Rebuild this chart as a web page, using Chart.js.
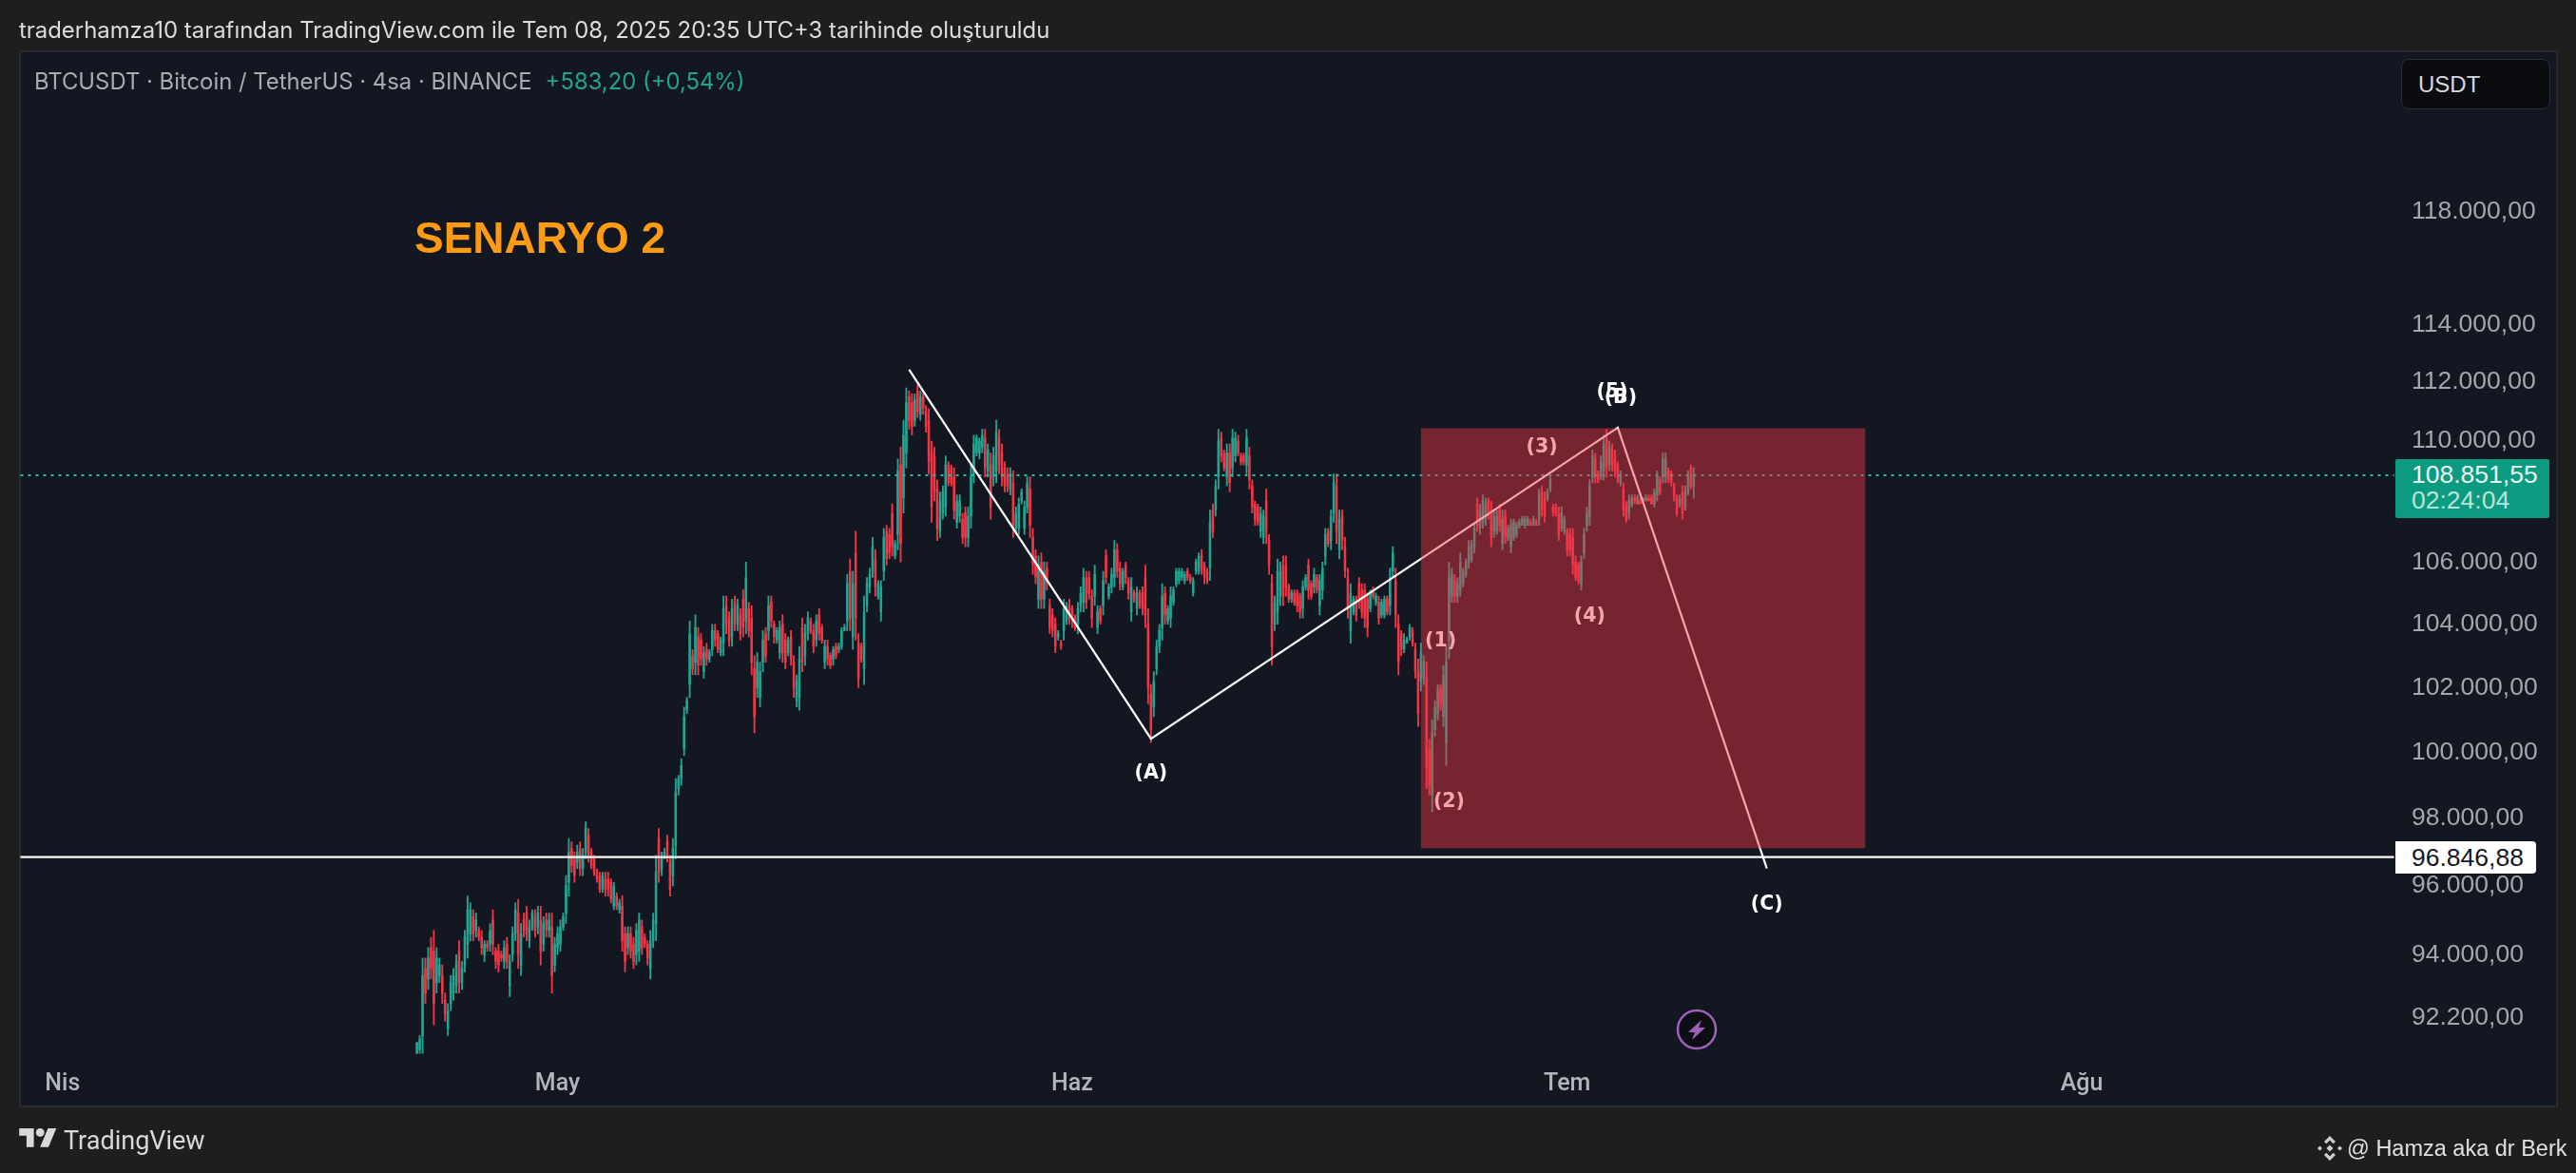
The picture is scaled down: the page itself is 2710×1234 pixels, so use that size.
<!DOCTYPE html>
<html lang="tr">
<head>
<meta charset="utf-8">
<title>BTCUSDT</title>
<script src="https://cdn.jsdelivr.net/npm/chart.js@4/dist/chart.umd.min.js"></script>
<style>
  html, body { margin: 0; padding: 0; background: #1e1e1e; width: 2710px; height: 1234px; overflow: hidden; }
  #panel { position: absolute; left: 20px; top: 53px; width: 2667px; height: 1108px; background: #131722; border: 2px solid #2a2b2e; border-radius: 2px; }
  #chart { position: absolute; left: 0; top: 0; }
  .t { position: absolute; white-space: nowrap; }
  #created { left: 20px; top: 16px; font: 400 23.9px/32px Inter, sans-serif; color: #dcdcdc; }
  #legend { left: 36px; top: 70px; font: 400 23.85px/32px Inter, sans-serif; color: #a8abb4; }
  #legend span { color: #22a58e; margin-left: 14px; }
  #title { left: 436px; top: 220px; font: 700 46px/60px "Liberation Sans", sans-serif; color: #ff9a14; }
  #usdt { left: 2526px; top: 62px; width: 155px; height: 51px; background: #0b0c0f; border: 1px solid #2a2e39; border-radius: 8px; }
  #usdt div { margin-left: 17px; font: 400 24px/51px "Liberation Sans", sans-serif; color: #d6d8de; }
  #last { left: 2520px; top: 483px; width: 162px; height: 62px; background: #0c9a80; border-radius: 2px; }
  #last div { position: absolute; left: 17px; font: 400 26.5px/26px "Liberation Sans", sans-serif; }
  #target { left: 2520px; top: 885px; width: 148px; height: 34px; background: #fff; border-radius: 0 4px 4px 0; font: 400 26.5px/34px "Liberation Sans", sans-serif; color: #131722; text-indent: 17px; }
  #brand { left: 67px; top: 1183px; font: 400 27px/34px Roboto, sans-serif; color: #d8d9dc; }
  #author { left: 2469px; top: 1191px; font: 400 23.5px/34px "Liberation Sans", sans-serif; color: #e0e0e0; }
  svg { position: absolute; }
</style>
</head>
<body>
<div id="panel"></div>
<canvas id="chart" width="2710" height="1234"></canvas>

<div class="t" id="created">traderhamza10 tarafından TradingView.com ile Tem 08, 2025 20:35 UTC+3 tarihinde oluşturuldu</div>
<div class="t" id="legend">BTCUSDT · Bitcoin / TetherUS · 4sa · BINANCE<span>+583,20 (+0,54%)</span></div>
<div class="t" id="title">SENARYO 2</div>
<div class="t" id="usdt"><div>USDT</div></div>
<div class="t" id="last"><div style="top:3px;color:#eafaf6">108.851,55</div><div style="top:30px;color:#b5e6da">02:24:04</div></div>
<div class="t" id="target">96.846,88</div>
<div class="t" id="brand">TradingView</div>
<div class="t" id="author">@ Hamza aka dr Berk</div>

<svg style="left:20px;top:1187px" width="40" height="22" viewBox="0 4 36 20"><path fill="#d8d9dc" d="M14 22H7V11H0V4h14v18zM28 22h-8l7.5-18h8L28 22z"/><circle fill="#d8d9dc" cx="20" cy="8" r="4"/></svg>
<svg style="left:2437px;top:1194px" width="28" height="28" viewBox="0 0 28 28"><path fill="#d0d0d0" d="M14 1l6 6-2.300 2.300L14 5.600 10.300 9.300 8 7zM14 27l-6-6 2.300-2.300L14 22.400l3.700-3.700L20 21zM3.500 11.500l2.500 2.500-2.500 2.500L1 14zM24.500 11.500L27 14l-2.500 2.500L22 14zM14 10.500l3.500 3.500-3.500 3.500-3.500-3.500z"/></svg>
<svg style="left:1762px;top:1060px" width="46" height="46" viewBox="0 0 46 46"><circle cx="23" cy="23" r="20" fill="#0d0e13" stroke="#a25fb8" stroke-width="2.500"/><path fill="#a25fb8" d="M28 13L14 26h7l-3 8 14-13h-7z"/></svg>

<script>
// price in thousands USDT, one 4h candle per column
const highs = [
  91.5,91.7,93.9,93.9,94.2,94.5,94.7,94.2,93.9,93.7,
  92.9,92.6,93.4,93.6,94.0,94.4,93.8,94.7,95.7,95.5,
  95.3,95.2,94.8,94.7,94.4,94.4,94.9,95.3,94.2,94.3,
  94.1,94.4,94.5,94.0,94.8,95.5,95.6,94.9,95.2,95.4,
  95.0,95.3,95.3,95.4,95.4,95.1,95.2,95.2,95.2,94.5,
  94.8,95.0,95.2,96.3,97.4,97.3,97.0,97.2,97.3,97.1,
  97.9,97.7,97.1,96.9,96.5,96.4,96.4,96.4,96.4,96.2,
  96.1,95.8,95.6,95.7,94.8,94.8,94.8,94.5,94.9,95.2,
  95.0,94.6,94.4,94.7,95.2,96.9,97.7,97.0,97.1,97.5,
  96.9,97.4,99.2,99.3,99.8,101.4,101.7,104.1,103.2,104.3,
  103.9,103.7,103.3,103.4,103.2,104.0,104.0,103.8,103.6,104.9,
  104.9,104.4,104.8,104.9,104.8,104.5,105.1,106.0,104.7,104.6,
  103.0,103.1,102.8,103.8,103.9,104.9,104.9,104.1,103.9,104.1,
  104.3,103.7,103.6,103.8,103.0,102.4,103.3,104.2,104.0,104.4,
  104.2,104.0,104.3,104.5,104.0,103.5,103.5,103.1,103.3,103.4,
  103.4,103.9,104.0,105.6,106.1,105.7,107.0,103.7,103.4,104.9,
  105.5,105.8,106.8,106.4,105.4,105.4,107.1,107.2,107.1,107.9,
  106.7,109.4,109.8,110.7,111.8,111.7,111.6,111.6,111.9,111.7,
  111.7,111.2,111.1,110.0,109.8,108.7,108.3,108.5,109.5,109.3,
  109.2,109.1,108.2,108.2,107.6,107.8,107.8,109.2,110.2,110.2,
  110.1,110.4,110.4,109.9,109.6,109.8,110.7,110.4,109.9,109.3,
  109.1,109.1,109.0,107.8,108.1,108.4,108.0,108.8,108.8,107.1,
  106.4,106.2,106.3,106.0,106.0,104.8,104.5,104.2,103.8,103.5,
  104.8,104.7,104.8,104.6,104.3,104.7,105.2,105.8,105.7,105.7,
  105.1,105.9,104.6,104.6,105.7,106.4,105.3,105.8,106.7,106.6,
  106.0,105.8,106.0,105.5,105.5,105.1,105.2,105.1,105.2,105.9,
  104.5,102.1,102.5,103.5,104.0,105.3,105.2,104.6,105.2,105.2,
  105.8,105.8,105.8,105.7,105.8,105.6,105.5,106.1,106.3,106.4,
  106.0,105.8,107.7,107.9,108.7,110.4,110.3,109.7,109.9,109.9,
  110.4,110.3,110.2,109.6,109.6,110.4,109.8,108.7,108.0,107.9,
  107.8,107.7,108.4,106.9,105.6,104.9,106.1,106.0,106.2,106.2,
  105.3,105.1,105.1,105.1,105.0,105.4,105.6,106.1,105.4,105.8,
  105.6,105.6,106.0,107.1,107.1,107.7,108.9,108.9,107.7,107.7,
  106.8,105.8,105.3,104.9,104.9,105.5,105.3,105.3,105.0,105.1,
  105.2,105.0,104.9,104.8,104.9,104.9,105.8,106.5,105.8,104.3,
  103.8,103.7,103.6,104.0,103.9,103.4,102.9,103.4,103.0,102.8,
  100.4,101.0,101.6,102.1,102.1,102.7,103.3,106.0,105.8,105.6,
  105.5,106.3,105.8,106.1,106.7,106.7,107.3,108.1,107.9,108.2,
  108.1,108.1,108.0,107.7,107.7,107.9,107.7,107.7,107.2,107.4,
  107.4,107.3,107.4,107.5,107.5,107.5,107.4,107.5,107.4,108.4,
  108.5,108.3,108.4,108.8,107.9,107.9,107.8,107.8,107.5,107.1,
  107.1,107.1,106.2,106.0,106.2,107.1,107.8,108.7,109.7,109.6,
  109.0,109.5,110.2,110.4,110.0,109.9,109.7,109.3,109.0,108.6,
  108.0,108.2,108.2,108.2,108.2,108.1,108.1,108.2,108.2,108.2,
  108.4,109.0,108.8,109.6,109.6,109.1,109.0,108.6,108.2,108.2,
  108.5,108.5,109.0,109.2,109.1];
const lows = [
  91.2,91.2,91.2,92.6,93.0,93.3,92.0,92.9,93.2,92.6,
  92.1,91.7,92.4,92.7,92.9,92.9,93.0,93.5,93.9,94.4,
  94.4,94.5,94.4,94.0,93.8,94.1,94.1,94.0,93.6,93.5,
  93.8,93.6,93.6,92.8,93.8,94.4,93.6,93.4,94.5,94.4,
  94.2,94.7,94.5,94.6,93.7,94.1,94.5,94.5,92.9,93.5,
  94.0,94.1,94.7,94.9,95.7,96.4,96.1,96.5,96.3,96.3,
  96.8,96.7,96.5,96.3,96.1,95.8,95.8,95.7,95.7,95.5,
  95.3,95.3,95.2,94.1,93.5,94.0,93.9,93.6,93.7,93.8,
  94.0,94.2,93.7,93.3,94.2,94.4,96.1,96.3,96.8,96.7,
  95.7,96.0,96.8,98.7,99.0,99.9,101.2,101.7,102.4,102.4,
  102.4,102.7,102.3,102.7,102.8,103.0,103.3,103.1,103.0,103.0,
  103.7,103.3,103.3,103.8,103.8,103.5,103.6,103.7,103.6,102.4,
  100.6,101.7,101.4,102.5,102.8,103.5,103.9,103.4,103.4,102.9,
  102.8,102.6,103.0,102.7,101.7,101.4,101.3,102.5,102.7,103.5,
  103.7,103.1,103.3,103.5,103.4,102.6,102.7,102.6,102.7,102.9,
  103.1,103.2,103.8,103.8,103.8,103.2,103.5,102.0,102.8,102.1,
  104.4,105.0,105.5,104.9,104.8,104.1,105.4,105.9,106.1,106.2,
  106.1,106.4,106.0,107.6,109.1,110.4,110.2,110.5,110.8,110.7,
  110.9,110.3,108.9,107.3,108.0,106.7,106.8,107.4,107.5,108.5,
  108.5,107.4,107.1,107.3,106.6,106.5,106.5,107.1,108.6,109.5,
  109.4,109.6,108.8,108.8,107.4,108.5,108.6,108.9,108.5,108.3,
  108.3,108.2,106.8,106.9,106.9,107.9,106.9,107.6,106.8,105.6,
  105.3,104.5,104.5,104.5,105.1,103.7,103.6,103.1,103.5,103.2,
  103.5,104.0,104.0,103.9,103.8,103.7,104.4,104.4,104.5,104.8,
  103.9,104.6,103.7,104.0,104.3,105.3,104.8,105.0,105.2,105.5,
  105.1,105.1,105.3,104.8,104.1,104.7,104.3,104.5,104.3,103.9,
  101.5,100.3,101.1,102.4,103.1,103.5,104.0,104.0,103.9,104.6,
  105.2,105.3,105.4,105.3,105.4,105.3,104.9,105.6,105.6,105.6,
  105.3,105.3,105.4,106.8,107.5,108.4,109.3,109.0,108.5,108.3,
  108.8,109.3,109.5,109.2,109.2,108.9,108.4,107.6,107.2,107.2,
  106.8,106.6,106.6,105.6,102.7,103.8,104.0,104.6,104.6,104.9,
  104.7,104.7,104.6,104.4,104.2,104.2,105.1,104.8,104.8,105.0,
  105.0,104.3,104.8,105.9,106.5,106.4,107.3,106.6,106.1,106.4,
  105.5,104.2,103.4,104.3,104.1,104.5,104.2,103.9,103.6,104.4,
  104.8,104.6,104.0,104.2,104.2,104.3,104.3,105.5,103.9,102.4,
  103.0,103.1,103.4,103.5,103.3,102.3,100.8,101.9,102.1,98.9,
  98.7,98.2,100.5,101.0,101.3,100.8,99.6,102.9,104.7,104.7,
  104.7,104.9,105.2,105.5,105.8,106.0,106.3,107.0,106.9,107.1,
  107.2,107.4,106.5,106.8,106.9,107.0,106.4,106.6,106.7,106.3,
  106.7,106.8,107.1,107.2,107.1,107.2,107.2,107.2,107.2,107.2,
  107.5,107.3,108.0,108.3,107.5,107.5,106.7,107.0,106.9,106.2,
  106.2,105.6,105.4,105.3,105.1,106.1,107.0,107.2,108.6,108.6,
  108.6,108.7,108.7,108.8,109.0,109.0,108.8,108.6,108.5,107.5,
  107.3,107.4,107.8,107.9,107.9,107.9,108.0,108.0,108.0,107.9,
  107.8,108.0,108.2,108.6,108.6,108.6,108.5,108.0,107.5,107.8,
  107.4,107.7,108.2,108.4,108.1];
const opens = [
  91.2,91.3,91.7,93.6,93.3,94.2,94.1,93.2,93.4,93.4,
  92.7,91.9,92.6,92.9,93.1,94.1,93.2,93.7,94.3,94.6,
  95.1,94.7,94.7,94.5,94.0,94.3,94.3,95.0,94.1,94.1,
  94.0,93.8,94.3,93.1,94.0,94.6,95.2,93.7,95.0,95.2,
  94.4,94.8,95.1,94.8,95.0,94.3,95.0,94.7,94.8,93.7,
  94.2,94.3,94.8,95.2,96.1,97.1,96.8,96.7,97.1,96.5,
  97.0,97.5,97.0,96.8,96.4,96.3,95.9,96.2,96.2,96.1,
  95.4,95.7,95.3,95.4,94.6,94.2,94.6,94.3,94.0,94.1,
  94.8,94.5,94.3,93.6,94.4,94.9,97.4,96.5,96.9,97.3,
  96.7,96.3,97.2,98.9,99.2,100.1,101.3,102.1,103.0,102.8,
  103.6,103.5,102.5,103.2,102.9,103.2,103.8,103.7,103.1,103.4,
  104.6,104.2,103.6,104.7,104.0,104.3,104.8,104.1,104.5,104.2,
  102.6,102.0,101.7,102.8,103.7,103.8,104.7,104.0,103.5,103.1,
  104.0,103.5,103.1,103.6,102.8,101.6,101.7,103.9,103.0,103.7,
  104.1,103.8,103.5,104.3,103.9,102.8,103.3,103.0,102.9,103.3,
  103.2,103.3,103.8,104.1,105.7,103.6,106.3,103.4,103.3,102.6,
  104.6,105.2,105.7,106.1,104.9,104.4,105.7,107.0,106.9,107.6,
  106.2,106.9,109.2,108.1,109.6,111.5,111.3,110.7,111.7,110.9,
  111.5,111.0,110.7,109.6,109.5,108.4,107.0,107.6,107.8,109.2,
  109.1,108.8,107.3,107.5,107.4,107.6,106.8,107.5,108.9,109.6,
  109.6,109.8,110.1,109.0,109.2,108.8,109.0,110.1,109.6,109.1,
  108.9,108.4,108.6,107.1,107.1,108.0,107.1,107.8,108.4,106.8,
  106.2,104.8,106.0,104.8,105.8,104.6,104.3,104.0,103.6,103.4,
  103.8,104.1,104.6,104.5,104.2,103.9,104.6,104.7,105.5,105.5,
  104.9,104.9,103.9,104.5,104.6,106.2,104.9,105.2,105.5,106.4,
  105.8,105.2,105.9,105.4,104.4,105.0,104.5,105.0,105.0,105.5,
  104.0,101.8,101.4,102.6,103.3,103.9,105.0,104.1,104.2,104.7,
  105.3,105.4,105.5,105.4,105.7,105.5,105.0,105.7,105.7,106.2,
  105.9,105.7,105.8,107.7,107.7,108.8,110.1,109.6,108.8,109.6,
  109.1,109.5,110.0,109.5,109.5,109.2,109.5,108.5,107.9,107.8,
  107.0,106.8,108.0,106.7,105.3,104.0,104.4,104.9,105.9,105.9,
  105.2,104.8,105.0,105.0,104.9,104.5,105.2,105.9,105.3,105.2,
  105.5,104.6,105.1,106.2,107.0,106.7,107.6,108.5,106.4,107.5,
  106.5,105.5,103.8,104.4,104.8,105.3,105.1,105.1,104.8,104.5,
  105.1,104.7,104.7,104.3,104.3,104.8,104.6,105.7,105.4,104.0,
  103.7,103.2,103.4,103.6,103.8,103.2,102.5,102.2,102.3,102.3,
  100.1,98.7,100.7,101.2,102.0,101.1,100.3,103.5,104.9,105.4,
  104.9,105.1,105.3,105.6,106.0,106.1,106.5,107.9,107.1,107.3,
  107.4,108.0,107.7,107.0,107.0,107.7,106.6,107.5,106.8,106.5,
  106.8,106.9,107.2,107.2,107.2,107.2,107.3,107.2,107.3,107.4,
  108.3,108.1,108.1,108.4,107.8,107.8,107.6,107.1,107.0,107.0,
  106.9,106.8,106.0,105.9,105.3,106.3,107.2,107.5,108.8,109.4,
  108.9,108.8,109.0,110.1,109.2,109.7,109.5,109.2,108.6,108.4,
  107.9,107.6,107.9,108.1,107.9,108.0,108.0,108.0,108.1,108.1,
  107.9,108.2,108.7,108.8,108.8,109.0,108.9,108.5,108.1,107.9,
  108.3,107.8,108.3,109.1,108.5];
const closes = [
  91.5,91.6,93.4,92.9,93.9,93.6,92.6,93.9,93.7,92.9,
  92.3,92.4,93.2,93.4,93.8,93.2,93.6,94.5,95.3,95.3,
  94.6,95.0,94.5,94.2,94.3,94.2,94.7,94.3,93.8,93.7,
  93.9,94.2,93.8,93.8,94.6,95.3,94.0,94.6,94.7,94.6,
  94.8,95.2,94.7,95.2,94.1,94.9,94.7,95.0,93.4,94.3,
  94.6,94.8,95.1,96.0,97.0,96.6,96.3,97.0,96.5,96.9,
  97.7,96.9,96.6,96.4,96.2,95.9,96.3,95.9,95.9,95.6,
  96.0,95.4,95.5,94.4,93.8,94.6,94.1,93.8,94.7,95.0,
  94.2,94.3,93.9,94.4,95.0,96.4,96.4,96.8,97.0,96.9,
  95.9,97.1,98.8,99.2,99.6,101.1,101.6,103.7,102.6,103.9,
  102.7,102.9,103.1,102.9,103.1,103.8,103.5,103.2,103.5,104.5,
  104.0,103.5,104.5,104.0,104.6,103.7,103.9,105.5,103.8,102.8,
  101.1,102.8,102.5,103.5,103.0,104.6,104.1,103.6,103.8,103.9,
  103.1,102.8,103.5,102.9,102.0,102.2,102.9,102.8,103.7,104.2,
  103.8,103.3,104.1,103.7,103.5,103.3,102.9,102.7,103.2,103.0,
  103.3,103.8,103.9,105.3,104.2,105.3,104.2,102.3,102.9,104.4,
  105.3,105.6,106.5,105.2,105.3,105.2,106.8,106.1,106.3,106.5,
  106.6,109.0,106.6,110.2,111.3,110.7,110.5,111.4,111.0,111.5,
  111.1,110.5,109.3,107.8,108.3,107.1,108.0,108.3,109.2,108.6,
  108.6,107.7,108.0,108.0,106.8,106.8,107.5,108.8,109.9,110.1,
  110.0,110.2,109.1,109.7,107.8,109.5,110.3,109.2,108.8,108.5,
  108.5,108.9,107.2,107.6,107.9,108.3,107.8,108.6,107.2,105.9,
  105.5,105.9,104.8,105.7,105.3,103.9,103.8,103.3,103.7,103.3,
  104.5,104.6,104.2,104.1,103.9,104.5,105.0,105.5,104.7,105.0,
  104.2,105.6,104.4,104.1,105.4,105.5,105.2,105.6,106.4,105.7,
  105.3,105.7,105.5,105.0,105.2,104.8,105.0,104.6,104.5,104.3,
  102.0,100.7,102.2,103.3,103.8,104.9,104.3,104.5,104.9,105.1,
  105.7,105.7,105.7,105.6,105.5,105.4,105.4,106.0,106.2,105.8,
  105.5,105.4,107.3,107.0,108.5,110.0,109.5,109.1,109.6,108.6,
  110.1,110.1,109.6,109.3,109.3,110.1,108.7,107.8,107.4,107.3,
  107.6,107.5,107.0,105.9,103.3,104.7,105.7,105.7,104.9,105.2,
  104.8,105.0,104.7,104.6,104.4,105.2,105.5,105.1,104.9,105.6,
  105.1,105.4,105.8,106.9,106.6,107.5,108.6,107.0,107.4,106.7,
  105.7,104.5,105.0,104.8,104.3,104.7,104.4,104.2,103.9,105.0,
  104.9,104.9,104.2,104.7,104.8,104.4,105.5,106.3,104.3,102.8,
  103.2,103.5,103.5,103.9,103.4,102.5,101.2,103.1,102.8,99.5,
  99.0,100.6,101.4,101.9,101.5,102.4,102.8,105.5,105.6,104.9,
  105.3,106.0,105.7,106.0,106.5,106.6,107.1,107.2,107.7,108.0,
  107.9,107.6,106.8,107.5,107.5,107.2,107.4,106.8,107.1,107.2,
  107.3,107.2,107.3,107.4,107.4,107.4,107.2,107.4,107.2,108.2,
  107.7,107.5,108.3,108.7,107.6,107.6,106.9,107.6,107.4,106.4,
  106.4,105.9,105.5,105.4,106.0,106.9,107.6,108.5,109.5,108.8,
  108.7,109.3,109.9,109.1,109.8,109.2,109.0,108.7,108.9,107.7,
  107.4,108.0,108.1,108.0,108.1,107.9,108.1,108.1,108.0,107.9,
  108.3,108.8,108.3,109.4,109.4,108.7,108.6,108.1,107.6,108.1,
  107.6,108.3,108.8,108.5,108.9];

const slotCount = 845;
const firstCandleSlot = 141;

const monthNames = ['Nis', 'May', 'Haz', 'Tem', 'Ağu'];
const monthSlots = [15, 191, 374, 550, 733];

const priceTicks = [118000, 114000, 112000, 110000, 106000, 104000, 102000, 100000, 98000, 96000, 94000, 92200];

const lastPrice = 108851.55;
const supportPrice = 96846.88;

// abc drawing
const waveSlots = [316, 402, 568, 621];
const wavePrices = [112430, 100420, 110450, 96510];

const labelNames = ['(1)', '(2)', '(3)', '(4)', '(5)', '(B)', '(A)', '(C)'];
const labelSlots = [505, 508, 541, 558, 566, 569, 402, 621];
const labelPrices = [103450, 98490, 109800, 104250, 111660, 111460, 99350, 95450];

const zoneSlots = [498, 656];
const zonePrices = [110430, 97110];

const greenColor = '#22a592';
const redColor = '#f23645';

const categories = Array.from({ length: slotCount }, (_, i) => String(i));

function bySlot(fn) {
    const out = new Array(slotCount).fill(null);
    highs.forEach((_, i) => { out[firstCandleSlot + i] = fn(i); });
    return out;
}

const wickData = bySlot(i => [lows[i] * 1000, highs[i] * 1000]);
const bodyData = bySlot(i => [Math.min(opens[i], closes[i]) * 1000, Math.max(opens[i], closes[i]) * 1000]);
const candleColors = bySlot(i => closes[i] >= opens[i] ? greenColor : redColor);

function formatPrice(v) {
    const parts = v.toFixed(2).split('.');
    return parts[0].replace(/\B(?=(\d{3})+$)/g, '.') + ',' + parts[1];
}

// wave labels go under the zone, so the zone tints them like in TradingView
const drawingsPlugin = {
    id: 'drawings',
    afterDatasetsDraw(chart) {
        const { ctx, scales: { x, y } } = chart;
        ctx.save();
        ctx.font = '700 20.5px "DejaVu Sans"';
        ctx.fillStyle = '#ffffff';
        ctx.textAlign = 'center';
        ctx.textBaseline = 'middle';
        labelNames.forEach((name, i) => {
            ctx.fillText(name, x.getPixelForValue(labelSlots[i]), y.getPixelForValue(labelPrices[i]));
        });
        const left = x.getPixelForValue(zoneSlots[0]);
        const right = x.getPixelForValue(zoneSlots[1]);
        const top = y.getPixelForValue(zonePrices[0]);
        const bottom = y.getPixelForValue(zonePrices[1]);
        ctx.fillStyle = 'rgba(242, 54, 69, 0.45)';
        ctx.fillRect(left, top, right - left, bottom - top);
        ctx.restore();
    }
};

new Chart(document.getElementById('chart'), {
    type: 'bar',
    data: {
        labels: categories,
        datasets: [
            { type: 'bar', data: wickData, backgroundColor: candleColors, barThickness: 1.2, grouped: false, order: 5 },
            { type: 'bar', data: bodyData, backgroundColor: candleColors, barThickness: 1.9, grouped: false, order: 4 },
            {
                type: 'line',
                data: [{ x: categories[0], y: lastPrice }, { x: categories[slotCount - 1], y: lastPrice }],
                borderColor: '#26b8a0', borderWidth: 2, borderDash: [3, 5], pointRadius: 0, order: 3
            },
            {
                type: 'line',
                data: waveSlots.map((s, i) => ({ x: categories[s], y: wavePrices[i] })),
                borderColor: '#ffffff', borderWidth: 2.2, pointRadius: 0, tension: 0, order: 2
            },
            {
                type: 'line',
                data: [{ x: categories[0], y: supportPrice }, { x: categories[slotCount - 1], y: supportPrice }],
                borderColor: '#ffffff', borderWidth: 2.2, pointRadius: 0, order: 1
            }
        ]
    },
    options: {
        responsive: false,
        animation: false,
        layout: { padding: { left: 20, right: 0, top: 55.7, bottom: 71 } },
        plugins: { legend: { display: false }, tooltip: { enabled: false } },
        scales: {
            x: {
                type: 'category',
                grid: { display: false, drawTicks: false },
                border: { display: false },
                afterFit(scale) { scale.height = 43.3; },
                ticks: {
                    autoSkip: false,
                    maxRotation: 0,
                    padding: 6,
                    color: '#b2b5be',
                    font: { family: 'Roboto', size: 25, weight: '500' },
                    callback(value) {
                        const k = monthSlots.indexOf(value);
                        return k >= 0 ? monthNames[k] : null;
                    }
                }
            },
            y: {
                type: 'logarithmic',
                position: 'right',
                min: 90894,
                max: 123874,
                grid: { display: false, drawTicks: false },
                border: { display: false },
                afterBuildTicks(scale) { scale.ticks = priceTicks.map(v => ({ value: v })); },
                afterFit(scale) { scale.width = 190; },
                ticks: {
                    autoSkip: false,
                    padding: 17,
                    color: '#a3a6af',
                    font: { family: 'Liberation Sans', size: 26.5 },
                    callback(value) { return formatPrice(value); }
                }
            }
        }
    },
    plugins: [drawingsPlugin]
});
</script>
</body>
</html>
